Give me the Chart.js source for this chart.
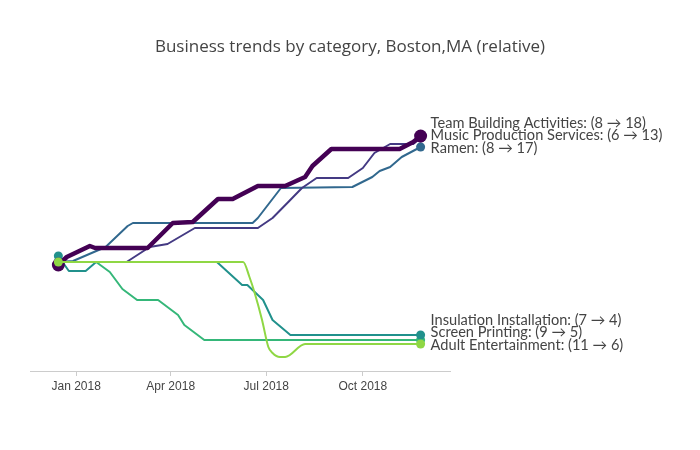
<!DOCTYPE html>
<html>
<head>
<meta charset="utf-8">
<script src="https://cdn.jsdelivr.net/npm/chart.js@4/dist/chart.umd.min.js"></script>
<style>
  html, body { margin: 0; padding: 0; background: #fff; }
</style>
</head>
<body>
<canvas id="trendChart" width="700" height="450"></canvas>
<script>
const chartTitle = 'Business trends by category, Boston,MA (relative)';
const categories = ['Team Building Activities', 'Music Production Services', 'Ramen',
                    'Insulation Installation', 'Screen Printing', 'Adult Entertainment'];
const startCounts = [8, 6, 8, 7, 9, 11];
const endCounts = [18, 13, 17, 4, 5, 6];
const colors = ['#440154', '#443a83', '#31688e', '#21918c', '#35b779', '#8fd744'];
const tickDates = ['2018-01-01', '2018-04-01', '2018-07-01', '2018-10-01'];
const tickLabels = ['Jan 2018', 'Apr 2018', 'Jul 2018', 'Oct 2018'];
const xRange = ['2017-11-18', '2018-12-23'];

// relative value at each turning point of a line
const teamBuilding = [
  ['2017-12-15', 0.97], ['2017-12-23', 1.05], ['2018-01-14', 1.16], ['2018-01-19', 1.14],
  ['2018-03-10', 1.14], ['2018-04-03', 1.39], ['2018-04-22', 1.40], ['2018-05-16', 1.63],
  ['2018-05-30', 1.63], ['2018-06-23', 1.76], ['2018-07-19', 1.76], ['2018-08-07', 1.85],
  ['2018-08-14', 1.96], ['2018-09-01', 2.13], ['2018-11-05', 2.13], ['2018-11-18', 2.20],
  ['2018-11-25', 2.26]
];
const musicProduction = [
  ['2017-12-15', 1.00], ['2018-02-18', 1.00], ['2018-03-12', 1.15], ['2018-03-29', 1.18],
  ['2018-04-24', 1.34], ['2018-06-23', 1.34], ['2018-07-07', 1.44], ['2018-07-22', 1.60],
  ['2018-08-04', 1.74], ['2018-08-18', 1.84], ['2018-09-17', 1.84], ['2018-10-01', 1.94],
  ['2018-10-12', 2.09], ['2018-10-27', 2.18], ['2018-11-18', 2.18], ['2018-11-25', 2.24]
];
const ramen = [
  ['2017-12-15', 1.00], ['2017-12-29', 1.01], ['2018-01-29', 1.15], ['2018-02-19', 1.36],
  ['2018-02-24', 1.39], ['2018-06-18', 1.39], ['2018-06-23', 1.44], ['2018-07-15', 1.74],
  ['2018-09-21', 1.75], ['2018-10-10', 1.85], ['2018-10-17', 1.91], ['2018-10-27', 1.95],
  ['2018-11-07', 2.05], ['2018-11-25', 2.15]
];
const insulation = [
  ['2017-12-15', 1.06], ['2017-12-25', 0.91], ['2018-01-10', 0.91], ['2018-01-20', 1.00],
  ['2018-05-15', 1.00], ['2018-06-08', 0.77], ['2018-06-13', 0.77], ['2018-06-28', 0.62],
  ['2018-07-07', 0.42], ['2018-07-24', 0.27], ['2018-11-25', 0.27]
];
const screenPrinting = [
  ['2017-12-15', 1.00], ['2018-01-20', 1.00], ['2018-02-02', 0.90], ['2018-02-14', 0.73],
  ['2018-02-28', 0.62], ['2018-03-20', 0.62], ['2018-04-08', 0.47], ['2018-04-14', 0.37],
  ['2018-05-03', 0.22], ['2018-11-25', 0.22]
];
const adultEntertainment = [
  ['2017-12-15', 1.00], ['2018-06-09', 1.00], ['2018-06-15', 0.85], ['2018-06-20', 0.69],
  ['2018-06-27', 0.42], ['2018-07-03', 0.15], ['2018-07-07', 0.09], ['2018-07-14', 0.05],
  ['2018-07-19', 0.05], ['2018-08-07', 0.18], ['2018-11-25', 0.18]
];

const series = [teamBuilding, musicProduction, ramen, insulation, screenPrinting, adultEntertainment];
const lineWidths = [4.5, 2, 2, 2, 2, 2];
const markerSizes = [6.5, 4.5, 4.5, 4.5, 4.5, 4.5];
const drawOrder = [1, 2, 3, 4, 5, 0];   // lower = drawn on top

// days since 1 Jan 2018
function dayOf(s) {
  const [y, m, d] = s.split('-').map(Number);
  return (Date.UTC(y, m - 1, d) - Date.UTC(2018, 0, 1)) / 86400000;
}

const datasets = series.map((pts, i) => ({
  label: categories[i],
  data: pts.map(([d, v]) => ({ x: dayOf(d), y: v })),
  borderColor: colors[i],
  backgroundColor: colors[i],
  borderWidth: lineWidths[i],
  borderJoinStyle: 'round',
  pointBackgroundColor: colors[i],
  pointBorderWidth: 0,
  pointHoverRadius: 0,
  pointRadius: c => (c.dataIndex === 0 || c.dataIndex === pts.length - 1) ? markerSizes[i] : 0,
  cubicInterpolationMode: i === 5 ? 'monotone' : 'default',
  order: drawOrder[i],
  fill: false
}));

// title + end-of-line labels
const textPlugin = {
  id: 'textPlugin',
  afterDatasetsDraw(chart) {
    const ctx = chart.ctx;
    ctx.save();
    ctx.fillStyle = '#444';
    ctx.textBaseline = 'middle';
    ctx.font = '17px "Open Sans"';
    ctx.textAlign = 'center';
    ctx.fillText(chartTitle, 350, 47);

    const items = chart.data.datasets.map((ds, i) => {
      const meta = chart.getDatasetMeta(i);
      const pt = meta.data[meta.data.length - 1];
      return { x: pt.x, y: pt.y, text: `${categories[i]}: (${startCounts[i]} → ${endCounts[i]})` };
    }).sort((a, b) => a.y - b.y);

    const gap = 12.5;
    const clusters = [];
    items.forEach(it => {
      const last = clusters[clusters.length - 1];
      if (last && it.y - last[last.length - 1].y < gap) last.push(it);
      else clusters.push([it]);
    });

    ctx.font = '14.6px Lato';
    ctx.textAlign = 'left';
    clusters.forEach(cl => {
      const bottom = cl[cl.length - 1].y + 1;
      cl.forEach((it, k) => {
        ctx.fillText(it.text, it.x + 10, bottom - (cl.length - 1 - k) * gap);
      });
    });
    ctx.restore();
  }
};

new Chart(document.getElementById('trendChart'), {
  type: 'line',
  data: { datasets },
  options: {
    responsive: false,
    animation: false,
    layout: { padding: { left: 30, right: 250, top: 100, bottom: 53.6 } },
    plugins: {
      legend: { display: false },
      tooltip: { enabled: false },
      title: { display: false }
    },
    scales: {
      x: {
        type: 'linear',
        min: dayOf(xRange[0]),
        max: dayOf(xRange[1]),
        afterBuildTicks: scale => { scale.ticks = tickDates.map(d => ({ value: dayOf(d) })); },
        ticks: {
          callback: (v, idx) => tickLabels[idx],
          color: '#444',
          font: { family: '"Liberation Sans", Arial', size: 12 },
          padding: 3,
          maxRotation: 0,
          autoSkip: false
        },
        grid: { drawOnChartArea: false, color: '#ccc', tickLength: 5 },
        border: { color: '#ccc', width: 1 }
      },
      y: { display: false, min: -0.09, max: 2.62 }
    }
  },
  plugins: [textPlugin]
});
</script>
</body>
</html>
